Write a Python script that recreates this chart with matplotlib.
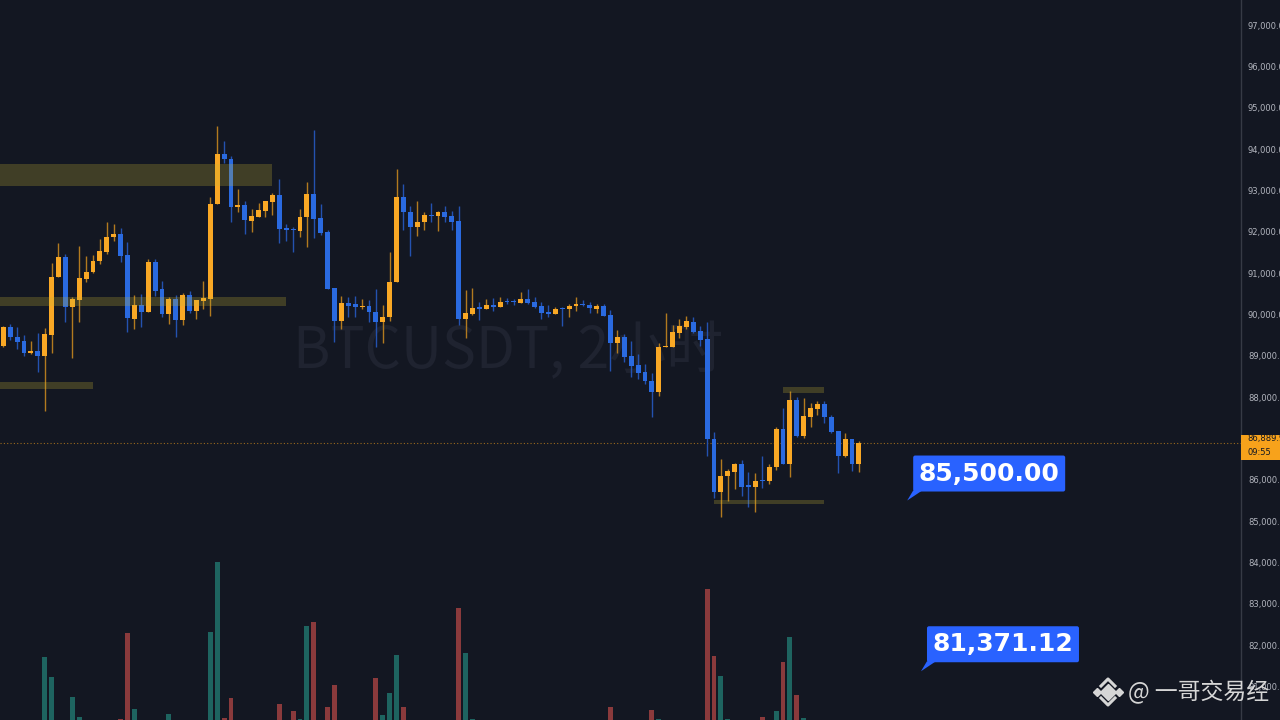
import matplotlib
matplotlib.use('Agg')
import matplotlib.pyplot as plt
from matplotlib.patches import Rectangle, FancyBboxPatch, Polygon
from matplotlib.transforms import IdentityTransform, blended_transform_factory
from matplotlib.lines import Line2D
from matplotlib.ticker import FuncFormatter

# BTCUSDT 2h candles
opens = [89245, 89690, 89462, 89351, 89061, 89109, 89003, 89503, 90906, 91383,
         90181, 90350, 90865, 91020, 91286, 91518, 91873, 91939, 91438, 89897,
         90229, 90067, 91276, 90609, 90004, 90367, 89859, 90471, 90076, 90326,
         90381, 92664, 93888, 93760, 92592, 92647, 92268, 92364, 92509, 92727,
         92889, 92098, 92074, 92026, 92357, 92913, 92333, 91987, 90633, 89835,
         90277, 90246, 90181, 90205, 90067, 89818, 89946, 90778, 92833, 92478,
         92123, 92236, 92413, 92381, 92478, 92381, 92268, 89890, 90019, 90164,
         90139, 90222, 90181, 90318, 90318, 90285, 90381, 90294, 90212, 90052,
         90004, 90156, 90132, 90197, 90253, 90229, 90139, 90212, 89987, 89303,
         89455, 88988, 88778, 88609, 88391, 88125, 89206, 89220, 89559, 89690,
         89825, 89600, 89399, 86981, 85714, 86093, 86197, 86376, 85859, 85820,
         85990, 85972, 86304, 87230, 86384, 87931, 87068, 87528, 87714, 87827,
         87520, 87182, 86577, 86995, 86376]
highs = [89721, 89769, 89690, 89503, 89351, 89544, 89665, 91237, 91721, 91462,
         90430, 91656, 91414, 91438, 91832, 92243, 92188, 92098, 91745, 90471,
         90495, 91334, 91334, 90809, 90430, 90471, 90512, 90575, 90350, 90809,
         92848, 94558, 94195, 93832, 93027, 92744, 92543, 92696, 92744, 92945,
         93269, 92188, 92123, 92551, 93211, 94461, 92664, 92043, 90633, 90454,
         90415, 90454, 90374, 90343, 90616, 90222, 91511, 93518, 93155, 92623,
         92737, 92471, 92696, 92509, 92623, 92502, 92623, 90592, 90628, 90309,
         90367, 90391, 90430, 90391, 90374, 90536, 90609, 90430, 90301, 90222,
         90181, 90173, 90253, 90430, 90350, 90309, 90253, 90253, 90108, 89624,
         89520, 89358, 89044, 88795, 88577, 89303, 90028, 89745, 89883, 89963,
         89946, 89721, 89825, 87165, 86512, 86255, 86401, 86473, 86183, 86159,
         86577, 86376, 87286, 87738, 88156, 87997, 87980, 87866, 87900, 87900,
         87569, 87182, 87126, 86995, 86930]
lows = [89213, 89382, 89158, 88995, 89044, 88616, 87673, 89075, 90906, 89825,
        88954, 89825, 90785, 90995, 91213, 91462, 91784, 91276, 89576, 89641,
        89704, 90067, 90454, 89946, 89769, 89462, 89745, 90028, 89883, 90132,
        89970, 92664, 93656, 92236, 92478, 91939, 91987, 92364, 92364, 92405,
        91736, 91784, 91518, 91881, 91639, 91856, 91915, 90623, 89341, 89656,
        89946, 89939, 90132, 89825, 89220, 89303, 89849, 90778, 92043, 91421,
        91905, 92043, 92243, 92011, 92243, 92043, 89745, 89438, 89994, 89866,
        90139, 90091, 90181, 90246, 90236, 90285, 90253, 90149, 89897, 89946,
        90004, 89728, 89946, 90084, 90212, 90028, 90035, 89970, 88640, 89061,
        88858, 88495, 88439, 88318, 87528, 88036, 89206, 89220, 89438, 89656,
        89544, 89245, 86577, 85554, 85109, 85482, 85779, 85610, 85351, 85223,
        85810, 85893, 86239, 86376, 86076, 87044, 87020, 87286, 87569, 87383,
        87126, 86159, 86546, 86222, 86183]
closes = [89690, 89462, 89334, 89061, 89109, 89003, 89520, 90913, 91383, 90181,
          90367, 90882, 91034, 91293, 91535, 91881, 91939, 91421, 89907, 90229,
          90067, 91276, 90575, 90004, 90367, 89859, 90471, 90076, 90350, 90405,
          92679, 93888, 93752, 92599, 92647, 92277, 92381, 92526, 92744, 92889,
          92074, 92043, 92035, 92364, 92913, 92316, 91977, 90623, 89835, 90277,
          90212, 90181, 90212, 90060, 89818, 89946, 90792, 92833, 92478, 92123,
          92243, 92413, 92381, 92478, 92364, 92243, 89890, 90028, 90156, 90139,
          90222, 90181, 90309, 90294, 90294, 90381, 90277, 90188, 90043, 90004,
          90132, 90132, 90205, 90260, 90222, 90149, 90212, 89970, 89303, 89455,
          88979, 88761, 88592, 88391, 88125, 89213, 89245, 89576, 89714, 89835,
          89583, 89382, 86981, 85714, 86101, 86207, 86376, 85827, 85835, 85972,
          85972, 86311, 87230, 86376, 87931, 87068, 87537, 87731, 87827, 87513,
          87158, 86577, 86995, 86376, 86889.9]
volumes = [4200, 3800, 3500, 4100, 3300, 5200, 9150, 8150, 5600, 5800,
           7150, 6150, 4300, 3900, 4600, 5100, 3700, 6050, 10350, 6550,
           4800, 5700, 5300, 5500, 6300, 5400, 5600, 4400, 3900, 4500,
           10400, 13900, 6100, 7100, 5100, 5300, 4200, 3600, 3800, 4700,
           6800, 4900, 6450, 6050, 10700, 10900, 5400, 6650, 7750, 5500,
           4100, 3800, 2900, 4000, 8100, 6250, 7350, 9250, 6650, 5900,
           5200, 3700, 3300, 3600, 3400, 4300, 11600, 9350, 6050, 4700,
           3500, 3100, 3400, 2600, 2500, 3200, 3600, 3000, 3900, 3300,
           2800, 3500, 3100, 3300, 2700, 3100, 2900, 4600, 6650, 5300,
           5600, 5800, 5200, 5400, 6500, 6050, 5500, 4800, 4200, 3900,
           4400, 5100, 12550, 9200, 8200, 6050, 5100, 5700, 5500, 5900,
           6150, 5600, 6450, 8900, 10150, 7250, 6100, 5400, 4300, 4800,
           4600, 5700, 4900, 5200, 3200]

# supply / demand zones (price range, from candle .. to candle)
zone_lo = [93113, 90212, 88190, 88093, 85423]
zone_hi = [93631, 90422, 88366, 88253, 85520]
zone_from = [-0.5, -0.5, -0.5, 113.0, 103.0]
zone_to = [38.9, 40.9, 13.0, 118.9, 118.9]

# price callouts
callout_prices = [85500.00, 81371.12]
callout_at = [131.0, 133.0]

last_price = 86889.9
price_ticks = list(range(81000, 98000, 1000))

BG = '#131722'
UP = '#f9a825'
DOWN = '#2a6ae0'
UP_WICK = '#b27a1f'
DOWN_WICK = '#2452b0'
VOL_UP = '#1e6460'
VOL_DOWN = '#8a3a3c'

fig = plt.figure(figsize=(12.8, 7.2), dpi=100, facecolor=BG)
rect = [0, 0, 1241 / 1280, 1]

# volume panel underneath
axv = fig.add_axes(rect, zorder=0)
axv.set_facecolor(BG)
ax = fig.add_axes(rect, zorder=1, sharex=axv)
ax.patch.set_visible(False)

n = len(closes)
xs = list(range(n))
is_up = [c >= o for o, c in zip(opens, closes)]

axv.bar(xs, volumes, width=0.72, color=[VOL_UP if u else VOL_DOWN for u in is_up], linewidth=0)
axv.set_ylim(6000, 42000)
axv.axis('off')

# candles
ax.vlines(xs, lows, highs, colors=[UP_WICK if u else DOWN_WICK for u in is_up], lw=1.0, zorder=2)
bottoms = [min(o, c) for o, c in zip(opens, closes)]
heights = [max(abs(c - o), 35) for o, c in zip(opens, closes)]
ax.bar(xs, heights, bottom=bottoms, width=0.72,
       color=[UP if u else DOWN for u in is_up], linewidth=0, zorder=3)

for lo, hi, x0, x1 in zip(zone_lo, zone_hi, zone_from, zone_to):
    ax.add_patch(Rectangle((x0, lo), x1 - x0, hi - lo, fc='#c8b432', alpha=0.25, lw=0, zorder=4))

ax.set_xlim(-0.478, 179.38)
ax.set_ylim(80192, 97605)

# big symbol watermark
ax.text(508 / 1241, 1 - 352 / 720, 'BTCUSDT, 2小时', transform=ax.transAxes,
        fontsize=41, color='#1f2330', ha='center', va='center',
        family=['Noto Sans CJK SC', 'DejaVu Sans'], zorder=0.5)

# last price line + tag
ax.axhline(last_price, color='#f7a21b', ls=(0, (1, 2)), lw=0.8, alpha=0.6, zorder=1)
bt = blended_transform_factory(ax.transAxes, ax.transData)
ax.add_patch(Rectangle((1.0, 86480), 0.06, 605, transform=bt, fc='#f7a21b', lw=0,
                       clip_on=False, zorder=10))
ax.text(1.005, 86988, '{:,.1f}'.format(last_price), transform=bt, fontsize=6,
        color='#131722', va='center', ha='left', clip_on=False, zorder=11)
ax.text(1.005, 86673, '09:55', transform=bt, fontsize=6,
        color='#131722', va='center', ha='left', clip_on=False, zorder=11)

# right price scale
ax.yaxis.tick_right()
ax.set_yticks(price_ticks)
ax.yaxis.set_major_formatter(FuncFormatter(lambda v, p: '{:,.2f}'.format(v)))
ax.tick_params(axis='y', length=0, pad=5, labelsize=6, labelcolor='#b2b5be')
ax.tick_params(axis='x', bottom=False, labelbottom=False)
for s in ['top', 'left', 'bottom']:
    ax.spines[s].set_visible(False)
ax.spines['right'].set_color('#363a45')
ax.spines['right'].set_linewidth(1)

# blue price callouts with a little tail
fig.canvas.draw()
for price, xc in zip(callout_prices, callout_at):
    tx, ty = ax.transData.transform((xc, price))
    tail = Polygon([(tx, ty), (tx + 6, ty + 10), (tx + 15, ty + 10)], closed=True,
                   fc='#2962ff', lw=0, transform=IdentityTransform(), zorder=12)
    box = FancyBboxPatch((tx + 6, ty + 9), 152, 36, boxstyle='round,pad=0,rounding_size=2',
                         fc='#2962ff', lw=0, transform=IdentityTransform(), zorder=12)
    fig.add_artist(tail)
    fig.add_artist(box)
    fig.text((tx + 82) / 1280, (ty + 27) / 720, '{:,.2f}'.format(price), fontsize=18,
             fontweight='bold', color='white', ha='center', va='center', zorder=13)


# footer watermark: logo + handle
def px(x, y):
    return x / 1280, 1 - y / 720


lc = '#d6d6d6'
for (x, y), s in zip([(1108, 692), (1097, 692), (1119, 692)], [8, 4.5, 4.5]):
    fx, fy = px(x, y)
    fig.add_artist(Line2D([fx], [fy], marker='D', ms=s, color=lc, lw=0))
for yy, dy in [(686, -7), (698, 7)]:
    pts = [px(1101, yy), px(1108, yy + dy), px(1115, yy)]
    fig.add_artist(Line2D([p[0] for p in pts], [p[1] for p in pts], color=lc, lw=2.2))
fx, fy = px(1128, 692)
fig.text(fx, fy, '@ 一哥交易经', fontsize=16.5, color=lc, ha='left', va='center',
         family=['Noto Sans CJK SC', 'DejaVu Sans'])

fig.savefig('out.png', dpi=100, facecolor=BG)
